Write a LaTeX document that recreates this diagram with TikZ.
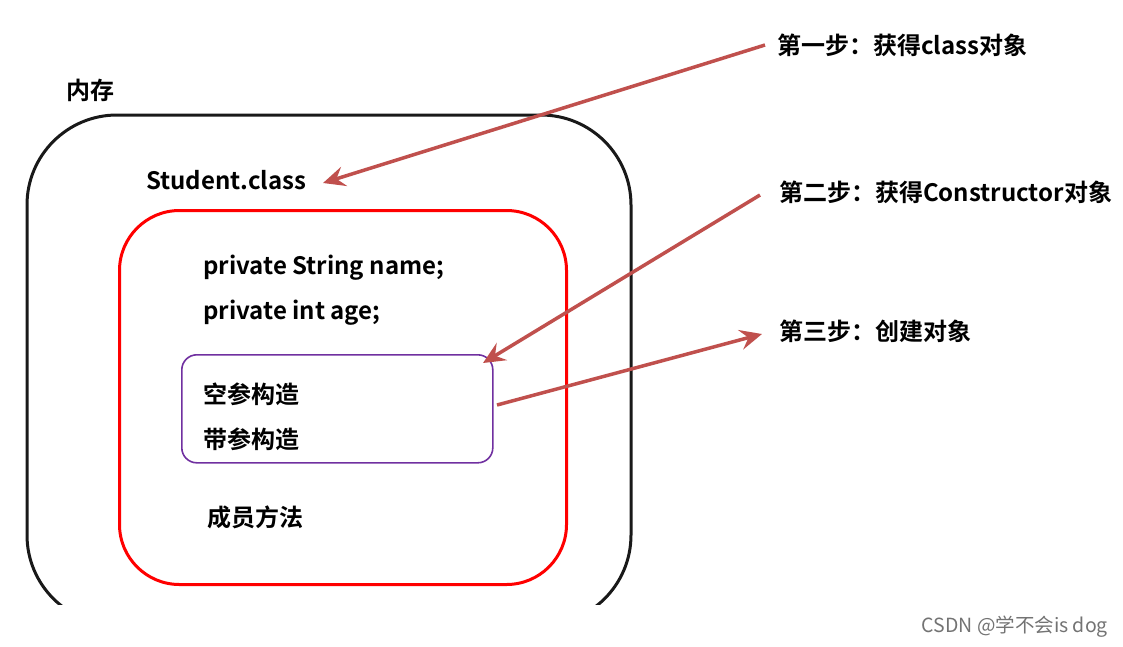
\documentclass[tikz,border=0pt]{standalone}
\usepackage{fontspec}
\setmainfont{Noto Sans CJK SC}[BoldFont={* Bold}]
\usetikzlibrary{arrows.meta}
\definecolor{arr}{RGB}{192,80,77}
\definecolor{pur}{RGB}{112,48,160}
\tikzset{
 lbl/.style={anchor=west,inner sep=0pt,font=\fontsize{24}{28}\selectfont\bfseries},
 conn/.style={draw=arr,line width=3.5pt,-{Stealth[length=22pt,width=20pt,inset=8pt]}}
}
\begin{document}
\begin{tikzpicture}[x=1pt,y=-1pt]
\useasboundingbox (0,0) rectangle (1123,646);
\begin{scope}
\clip (0,0) rectangle (1123,604);
\draw[line width=3pt,black!90,rounded corners=90pt] (27,115) rectangle (631,625);
\end{scope}
\node[draw=red,line width=3pt,rounded corners=60pt,minimum width=447pt,minimum height=374pt,anchor=north west,inner sep=0pt] (red) at (118,209) {};
\node[draw=pur,line width=1.6pt,rounded corners=15pt,minimum width=311pt,minimum height=108pt,anchor=north west,inner sep=0pt] (pur) at (181,354) {};
\node[lbl] (mem) at (66,90) {内存};
\node[lbl] (stu) at (146,180) {Student.class};
\node[lbl] (f1) at (203,268) {private String name;};
\node[lbl] (f2) at (203,313) {private int age;};
\node[lbl] (c1) at (203,394) {空参构造};
\node[lbl] (c2) at (203,439) {带参构造};
\node[lbl] (m) at (207,517) {成员方法};
\node[lbl] (s1) at (777,45) {第一步：获得class对象};
\node[lbl] (s2) at (779,192) {第二步：获得Constructor对象};
\node[lbl] (s3) at (779,331) {第三步：创建对象};
\node[anchor=east,inner sep=0pt,text=black!55,font=\fontsize{19.5}{22}\selectfont] (wm) at (1108,627) {CSDN @学不会is dog};
\coordinate (a1s) at (765,45); \coordinate (a1e) at (323,183);
\coordinate (a2s) at (760,195); \coordinate (a2e) at (483,363);
\coordinate (a3s) at (497,405); \coordinate (a3e) at (762,334);
\draw[conn] (a1s) -- (a1e);
\draw[conn] (a2s) -- (a2e);
\draw[conn] (a3s) -- (a3e);
\end{tikzpicture}
\end{document}
